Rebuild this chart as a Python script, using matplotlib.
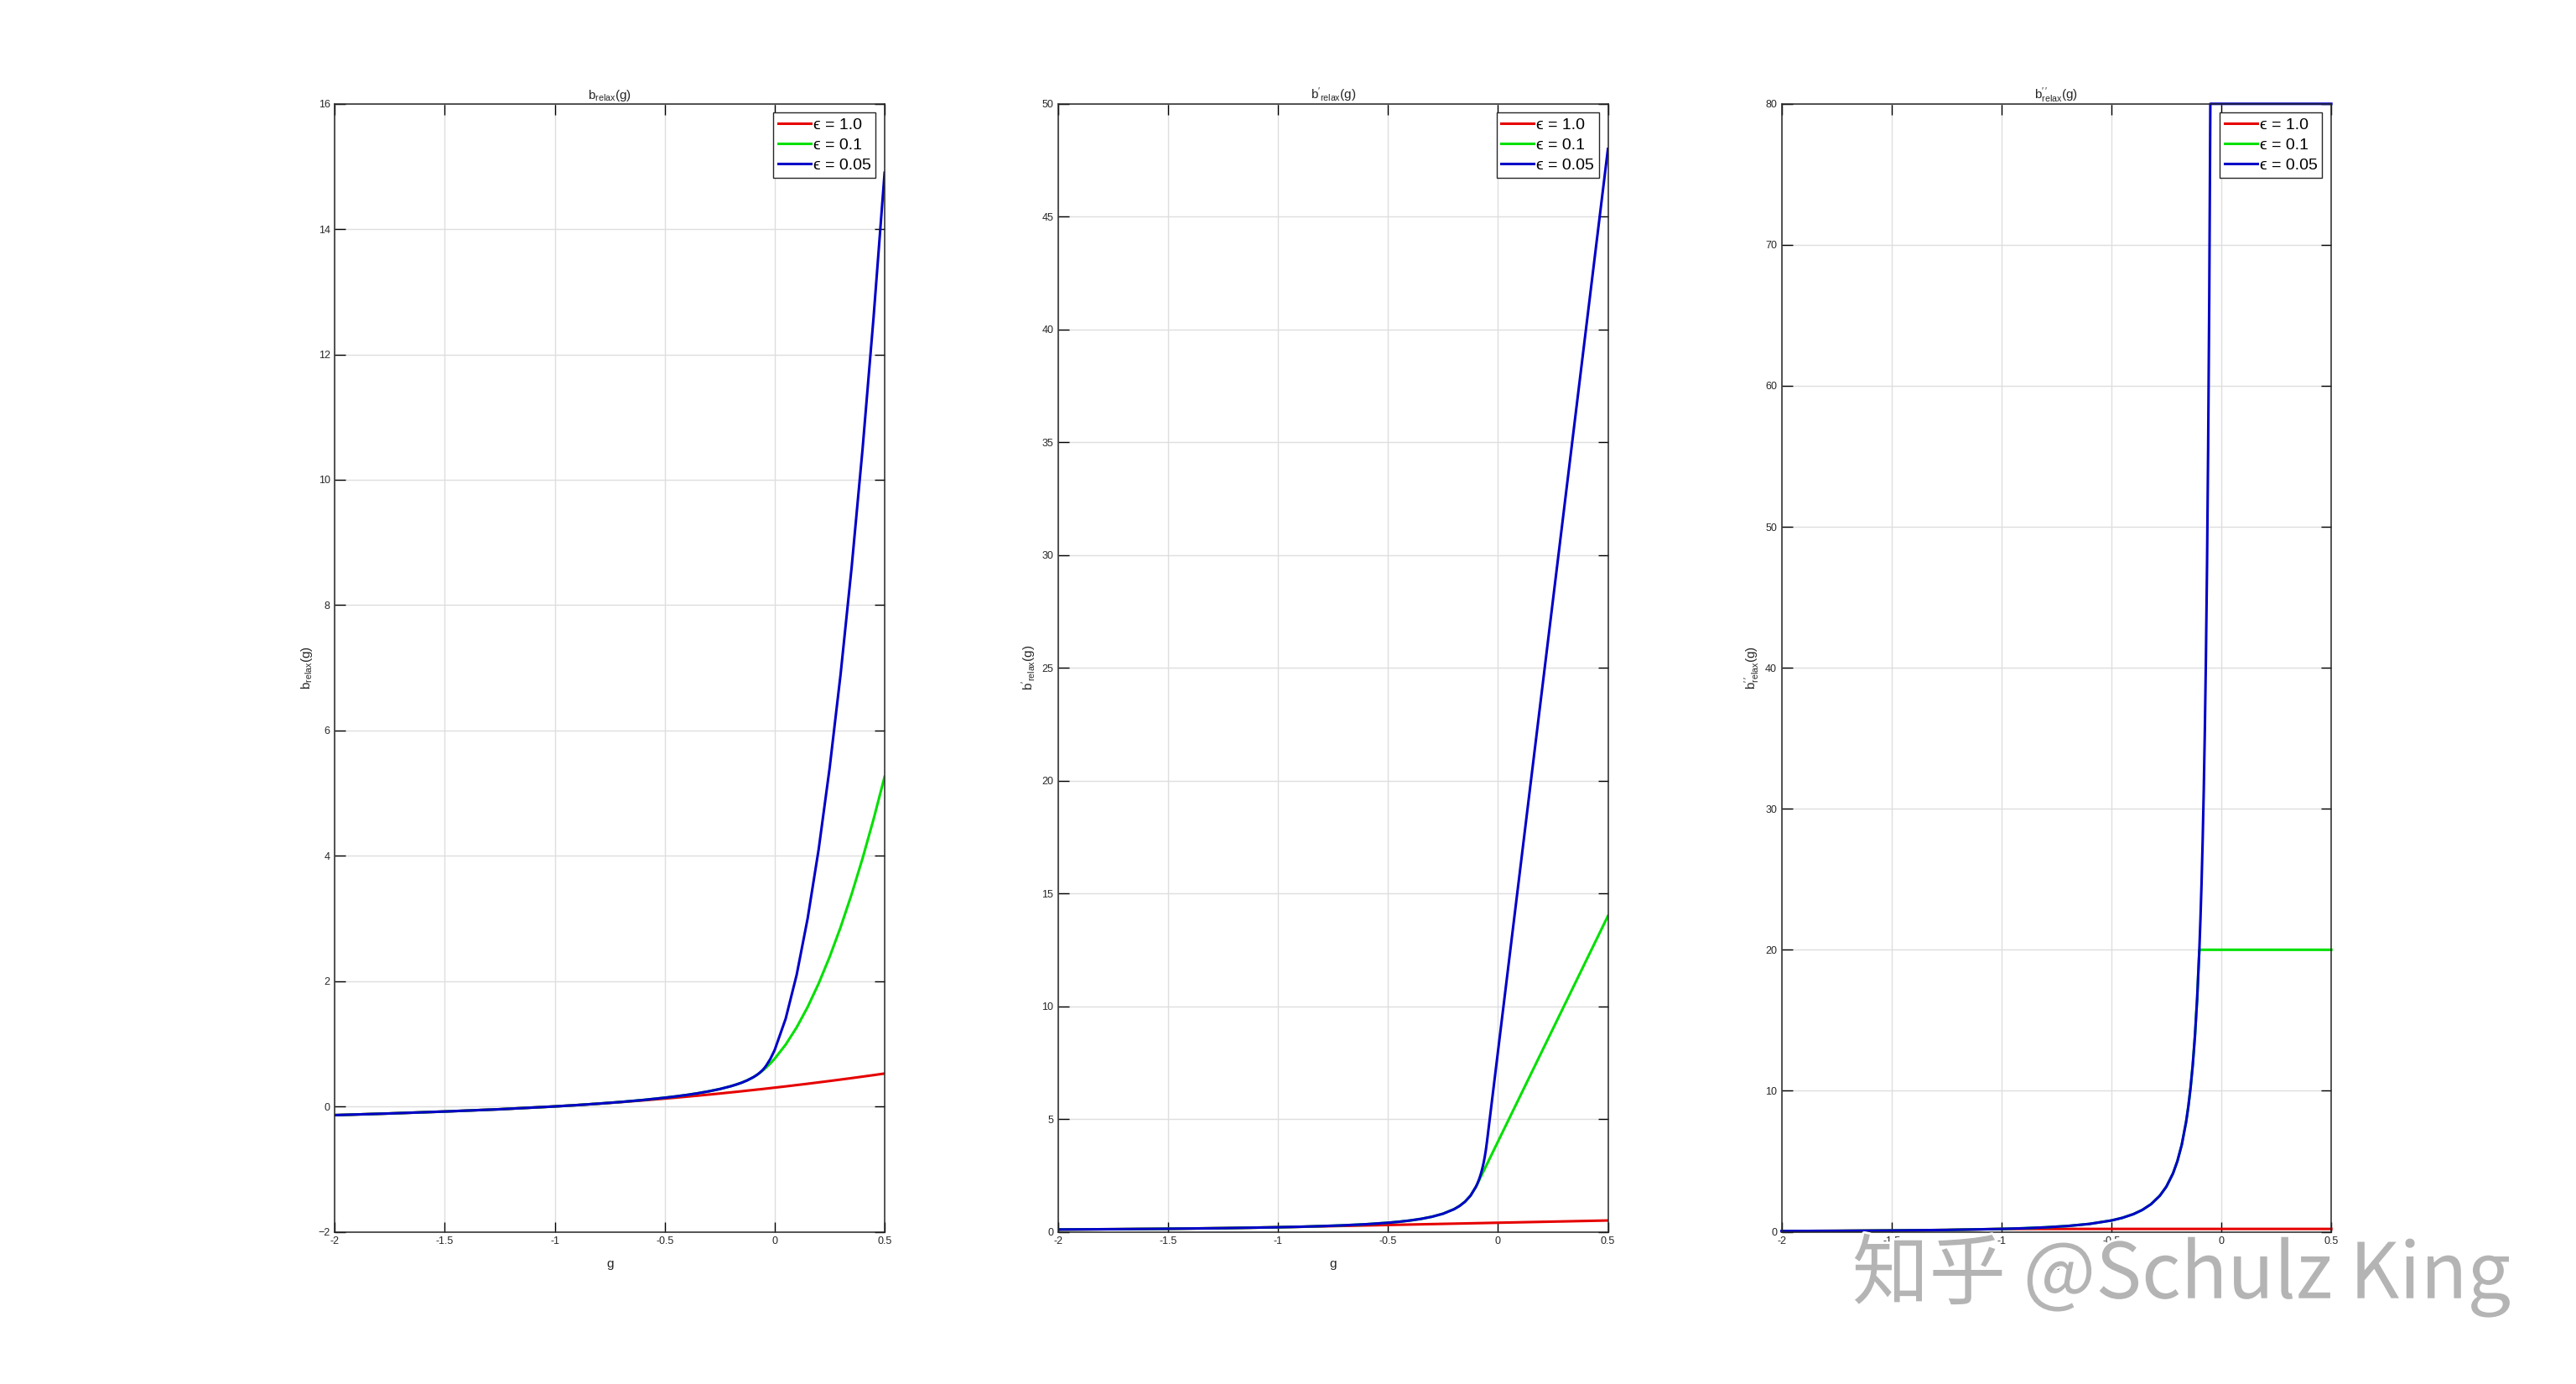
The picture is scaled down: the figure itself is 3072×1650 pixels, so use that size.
import matplotlib
matplotlib.use('Agg')
import matplotlib.pyplot as plt
import matplotlib.patheffects as pe

plt.rcParams['font.family'] = ['Liberation Sans', 'DejaVu Sans']
plt.rcParams['mathtext.fontset'] = 'custom'
plt.rcParams['mathtext.rm'] = 'Liberation Sans'
plt.rcParams['mathtext.it'] = 'Liberation Sans:italic'

# g samples
G = [-2.0, -1.75, -1.5, -1.25, -1.0, -0.9, -0.8, -0.7, -0.6, -0.5,
     -0.45, -0.4, -0.35, -0.3, -0.25, -0.2, -0.175, -0.15, -0.125, -0.1,
     -0.095, -0.09, -0.085, -0.08, -0.075, -0.07, -0.065, -0.06, -0.055, -0.05,
     -0.04, -0.02, 0.0, 0.05, 0.1, 0.15, 0.2, 0.25, 0.3, 0.35, 0.4, 0.45, 0.5]

# b_relax(g)
b_red = [-0.139, -0.112, -0.081, -0.045, 0.0, 0.021, 0.044, 0.069, 0.096, 0.125,
         0.140, 0.156, 0.172, 0.189, 0.206, 0.224, 0.233, 0.242, 0.252, 0.261,
         0.263, 0.265, 0.267, 0.269, 0.271, 0.272, 0.274, 0.276, 0.278, 0.280,
         0.284, 0.292, 0.300, 0.320, 0.341, 0.362, 0.384, 0.406, 0.429, 0.452, 0.476, 0.500, 0.525]
b_green = [-0.139, -0.112, -0.081, -0.045, 0.0, 0.021, 0.045, 0.071, 0.102, 0.139,
           0.160, 0.183, 0.210, 0.241, 0.277, 0.322, 0.349, 0.379, 0.416, 0.461,
           0.471, 0.482, 0.493, 0.505, 0.517, 0.530, 0.543, 0.557, 0.571, 0.586,
           0.617, 0.685, 0.761, 0.986, 1.261, 1.586, 1.961, 2.386, 2.861, 3.386, 3.961, 4.586, 5.261]
b_blue = [-0.139, -0.112, -0.081, -0.045, 0.0, 0.021, 0.045, 0.071, 0.102, 0.139,
          0.160, 0.183, 0.210, 0.241, 0.277, 0.322, 0.349, 0.379, 0.416, 0.461,
          0.471, 0.482, 0.493, 0.505, 0.518, 0.532, 0.547, 0.563, 0.580, 0.599,
          0.643, 0.755, 0.899, 1.399, 2.099, 2.999, 4.099, 5.399, 6.899, 8.599, 10.499, 12.599, 14.899]

# b'_relax(g)
d_red = [0.100, 0.114, 0.133, 0.160, 0.200, 0.220, 0.240, 0.260, 0.280, 0.300,
         0.310, 0.320, 0.330, 0.340, 0.350, 0.360, 0.365, 0.370, 0.375, 0.380,
         0.381, 0.382, 0.383, 0.384, 0.385, 0.386, 0.387, 0.388, 0.389, 0.390,
         0.392, 0.396, 0.400, 0.410, 0.420, 0.430, 0.440, 0.450, 0.460, 0.470, 0.480, 0.490, 0.500]
d_green = [0.100, 0.114, 0.133, 0.160, 0.200, 0.222, 0.250, 0.286, 0.333, 0.400,
           0.444, 0.500, 0.571, 0.667, 0.800, 1.000, 1.143, 1.333, 1.600, 2.000,
           2.1, 2.2, 2.3, 2.4, 2.5, 2.6, 2.7, 2.8, 2.9, 3.0,
           3.2, 3.6, 4.0, 5.0, 6.0, 7.0, 8.0, 9.0, 10.0, 11.0, 12.0, 13.0, 14.0]
d_blue = [0.100, 0.114, 0.133, 0.160, 0.200, 0.222, 0.250, 0.286, 0.333, 0.400,
          0.444, 0.500, 0.571, 0.667, 0.800, 1.000, 1.143, 1.333, 1.600, 2.000,
          2.105, 2.222, 2.353, 2.500, 2.667, 2.857, 3.077, 3.333, 3.636, 4.000,
          4.8, 6.4, 8.0, 12.0, 16.0, 20.0, 24.0, 28.0, 32.0, 36.0, 40.0, 44.0, 48.0]

# b''_relax(g), finer g samples where the curve bends sharply
G2 = [-2.0, -1.75, -1.5, -1.25, -1.0, -0.9, -0.8, -0.7, -0.6, -0.5,
      -0.45, -0.4, -0.36, -0.32, -0.28, -0.25, -0.22, -0.2, -0.18, -0.16,
      -0.15, -0.14, -0.13, -0.12, -0.11, -0.1,
      -0.095, -0.09, -0.085, -0.08, -0.075, -0.07, -0.065, -0.06, -0.055, -0.05]
dd_log = [0.050, 0.065, 0.089, 0.128, 0.200, 0.247, 0.313, 0.408, 0.556, 0.800,
          0.988, 1.250, 1.543, 1.953, 2.551, 3.200, 4.132, 5.000, 6.173, 7.813,
          8.889, 10.204, 11.834, 13.889, 16.529, 20.000]
g_red2 = [-2.0, -1.75, -1.5, -1.25, -1.0, 0.5]
dd_red = [0.050, 0.065, 0.089, 0.128, 0.200, 0.200]
g_green2 = G2[:26] + [0.5]
dd_green = dd_log + [20.00]
g_blue2 = G2 + [0.5]
dd_blue = dd_log + [22.16, 24.69, 27.68, 31.25, 35.56, 40.82, 47.34, 55.56, 66.12, 80.00, 80.00]

labels = ['ϵ = 1.0', 'ϵ = 0.1', 'ϵ = 0.05']
colors = ['#e60000', '#00e000', '#0000c8']
xticks = [-2, -1.5, -1, -0.5, 0, 0.5]
xticklabels = ['-2', '-1.5', '-1', '-0.5', '0', '0.5']
names = [r'$\mathrm{b}_{\mathrm{relax}}(\mathrm{g})$',
         r"$\mathrm{b}'_{\mathrm{relax}}(\mathrm{g})$",
         r"$\mathrm{b}^{\prime\,\prime}_{\mathrm{relax}}(\mathrm{g})$"]

fig = plt.figure(figsize=(30.72, 16.5), dpi=100)
lefts = [0.13, 0.4108, 0.6916]

panels = [
    ([G, G, G], [b_red, b_green, b_blue], (-2, 16), list(range(-2, 17, 2))),
    ([G, G, G], [d_red, d_green, d_blue], (0, 50), list(range(0, 51, 5))),
    ([g_red2, g_green2, g_blue2], [dd_red, dd_green, dd_blue], (0, 80), list(range(0, 81, 10))),
]

for i, (xs, ys, ylim, yticks) in enumerate(panels):
    ax = fig.add_axes([lefts[i], 0.11, 0.2134, 0.815])
    for x, y, c, lab in zip(xs, ys, colors, labels):
        ax.plot(x, y, color=c, lw=2.2, label=lab, clip_on=(i != 2))
    ax.set_xlim(-2, 0.5)
    ax.set_ylim(*ylim)
    ax.set_xticks(xticks)
    ax.set_xticklabels(xticklabels)
    ax.set_yticks(yticks)
    ax.grid(True, color='#dedede', lw=1.0)
    ax.set_axisbelow(True)
    ax.tick_params(direction='in', length=9, width=1.0, top=True, right=True,
                   labelsize=9, labelcolor='#262626', pad=4)
    for s in ax.spines.values():
        s.set_linewidth(1.1)
        s.set_color('#262626')
    ax.set_title(names[i], fontsize=11, color='#262626', pad=4)
    ax.set_ylabel(names[i], fontsize=11, color='#262626', labelpad=3)
    ax.set_xlabel('g', fontsize=11, color='#262626', labelpad=10)
    leg = ax.legend(loc='upper right', fontsize=14, frameon=True, fancybox=False,
                    edgecolor='#262626', framealpha=1, borderpad=0.3, labelspacing=0.33,
                    handlelength=2.0, handletextpad=0.15, borderaxespad=0.55)
    leg.get_frame().set_linewidth(1.0)

fig.text(0.719, 0.062, '知乎 @Schulz King', fontsize=66, color='#b4b4b4',
         family=['Noto Sans CJK SC', 'DejaVu Sans'], va='baseline',
         path_effects=[pe.withStroke(linewidth=4, foreground='white')])

fig.savefig('out.png', dpi=100, facecolor='white')
